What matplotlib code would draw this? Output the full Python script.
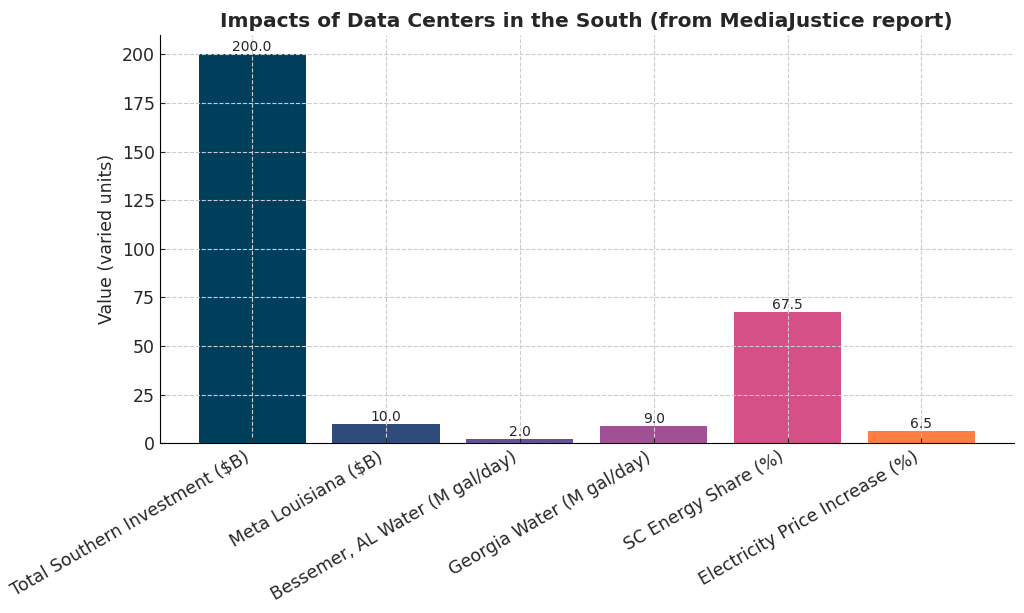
import matplotlib
matplotlib.use("Agg")
import matplotlib.pyplot as plt

categories = ["Total Southern Investment ($B)", "Meta Louisiana ($B)",
              "Bessemer, AL Water (M gal/day)", "Georgia Water (M gal/day)",
              "SC Energy Share (%)", "Electricity Price Increase (%)"]
values = [200.0, 10.0, 2.0, 9.0, 67.5, 6.5]
colors = ["#003f5c", "#2f4b7c", "#665191", "#a05195", "#d45087", "#ff7c43"]

fig, ax = plt.subplots(figsize=(10.24, 6.13), dpi=100)
bars = ax.bar(categories, values, color=colors, width=0.8)
for b, v in zip(bars, values):
    ax.text(b.get_x() + b.get_width() / 2, v, f"{v:.1f}", ha="center", va="bottom",
            fontsize=10, color="#262626")
ax.set_title("Impacts of Data Centers in the South (from MediaJustice report)",
             fontsize=14.5, fontweight="bold", color="#262626")
ax.set_ylabel("Value (varied units)", fontsize=12.5, color="#262626")
ax.grid(True, linestyle="--", color="#cccccc", linewidth=0.8)
ax.spines["top"].set_visible(False)
ax.spines["right"].set_visible(False)
ax.tick_params(axis="both", labelsize=12.5, colors="#262626", direction="in")
plt.setp(ax.get_xticklabels(), rotation=30, ha="right")
fig.subplots_adjust(left=0.156, right=0.99, top=0.943, bottom=0.277)
fig.savefig("out.png", dpi=100)
